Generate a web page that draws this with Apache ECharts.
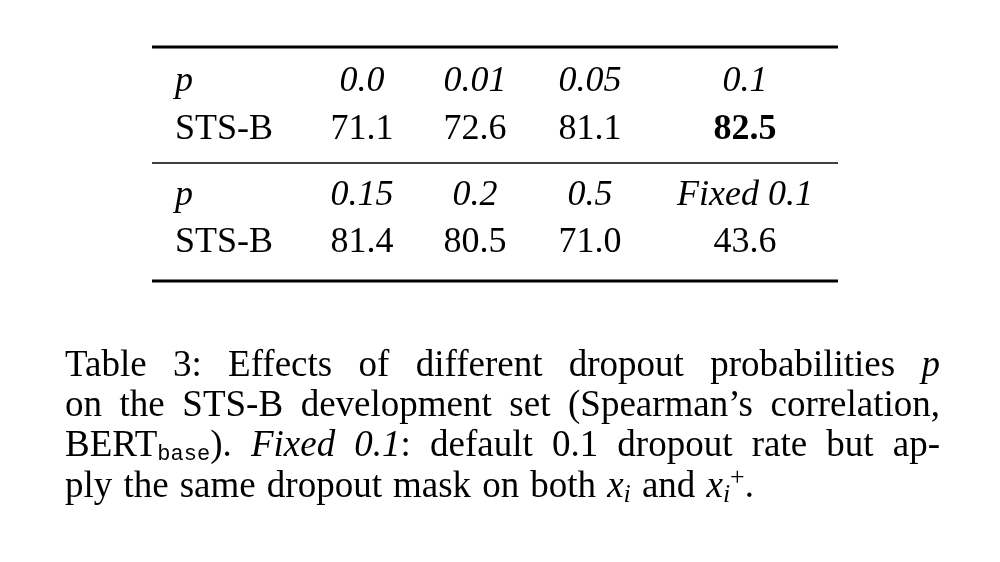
<!DOCTYPE html>
<html><head><meta charset="utf-8">
<script src="https://cdn.jsdelivr.net/npm/echarts@6/dist/echarts.min.js"></script>
<style>html,body{margin:0;background:#fff}#c{width:1000px;height:562px}</style>
</head><body><div id="c"></div>
<script>
var chart = echarts.init(document.getElementById("c"))

var rowLabels = ["p", "STS-B", "p", "STS-B"]
var probsTop = ["0.0", "0.01", "0.05", "0.1"]
var scoresTop = ["71.1", "72.6", "81.1", "82.5"]
var probsBottom = ["0.15", "0.2", "0.5", "Fixed 0.1"]
var scoresBottom = ["81.4", "80.5", "71.0", "43.6"]
var bestScore = "82.5"

var colX = [362, 475, 590, 745]
var rowY = [82, 130, 196, 243]
var font = "Liberation Serif"
var tableSize = 36
var capSize = 37

var graphic = []
function txtStyle(s, opt) {
  opt = opt || {}
  return {
    text: s, font: (opt.style || "normal") + " " + (opt.weight || "normal") + " " + (opt.size || tableSize) + "px '" + font + "'",
    fill: "#000", textAlign: opt.align || "center", textVerticalAlign: "middle",
    rich: opt.rich
  }
}
function txt(x, y, s, opt) {
  graphic.push({ type: "text", x: x, y: y, style: txtStyle(s, opt) })
}
function rule(y, w) {
  graphic.push({ type: "line", shape: { x1: 152, y1: y, x2: 838, y2: y }, style: { stroke: "#000", lineWidth: w } })
}

rule(47, 3); rule(163, 1.5); rule(281, 3)
var rows = [probsTop, scoresTop, probsBottom, scoresBottom]
rows.forEach(function (r, ri) {
  var isP = ri % 2 === 0
  txt(175, rowY[ri], rowLabels[ri], { align: "left", style: isP ? "italic" : "normal" })
  r.forEach(function (v, ci) {
    txt(colX[ci], rowY[ri], v, {
      style: isP ? "italic" : "normal",
      weight: (!isP && ri === 1 && v === bestScore) ? "bold" : "normal"
    })
  })
})

var capRich = {
  i: { fontFamily: font, fontStyle: "italic", fontSize: capSize },
  sub: { fontFamily: "Liberation Mono", fontSize: 22, padding: [16, 0, 0, 0] },
  sup: { fontFamily: font, fontSize: 26, padding: [0, 0, 18, 0] },
  isub: { fontFamily: font, fontStyle: "italic", fontSize: 26, padding: [16, 0, 0, 0] }
}
// words of each caption line; lines 1-3 are justified
var caption = [
  ["Table", "3:", "Effects", "of", "different", "dropout", "probabilities", "{i|p}"],
  ["on", "the", "STS-B", "development", "set", "(Spearman’s", "correlation,"],
  ["BERT{sub|base}).", "{i|Fixed}", "{i|0.1}:", "default", "0.1", "dropout", "rate", "but", "ap-"],
  ["ply", "the", "same", "dropout", "mask", "on", "both", "{i|x}{isub|i}", "and", "{i|x}{isub|i}{sup|+}."]
]
var capY = [366, 406, 446, 487]
var left = 65, right = 940
caption.forEach(function (words, li) {
  var st = words.map(function (w) { return txtStyle(w, { align: "left", size: capSize, rich: capRich }) })
  var widths = st.map(function (s) { return new echarts.graphic.Text({ style: s }).getBoundingRect().width })
  var total = widths.reduce(function (a, b) { return a + b }, 0)
  var gap = li < 3 ? (right - left - total) / (words.length - 1) : capSize * 0.3
  var x = left
  st.forEach(function (s, k) {
    graphic.push({ type: "text", x: x, y: capY[li], style: s })
    x += widths[k] + gap
  })
})

chart.setOption({ backgroundColor: "#fff", graphic: graphic })
</script></body></html>
